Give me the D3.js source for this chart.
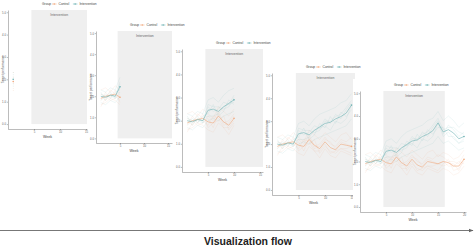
<!DOCTYPE html>
<html>
<head>
<meta charset="utf-8">
<script src="https://cdn.jsdelivr.net/npm/d3@7"></script>
<style>
  body { margin: 0; background: #fff; }
  svg { display: block; font-family: "Liberation Sans", Arial, sans-serif; }
</style>
</head>
<body>
<svg id="chart" width="474" height="252"></svg>
<script>
// weeks measured
var weeks = [1, 2, 3, 4, 5, 6, 7, 8, 9, 10, 11, 12, 13, 14, 15, 16, 17, 18, 19, 20];

// group means
var controlMean = [1.9, 2.0, 2.05, 2.1, 1.95, 1.9, 2.2, 1.95, 1.8, 2.1, 1.85, 1.75, 2.0, 1.95, 1.9, 2.0, 1.95, 1.8, 1.8, 2.1];
var interventionMean = [2.0, 1.95, 2.05, 2.0, 2.45, 2.5, 2.4, 2.6, 2.75, 2.9, 2.95, 3.1, 3.2, 3.35, 3.7, 3.3, 3.4, 3.25, 3.0, 3.1];

// single subjects (faint lines)
var controlSubjects = [
  [2.3, 2.4, 2.2, 2.5, 2.3, 2.1, 2.6, 2.4, 2.2, 2.5, 2.3, 2.1, 2.4, 2.5, 2.2, 2.4, 2.3, 2.1, 2.2, 2.5],
  [1.6, 1.7, 1.9, 1.8, 1.6, 1.5, 1.9, 1.7, 1.4, 1.8, 1.5, 1.4, 1.7, 1.6, 1.5, 1.7, 1.6, 1.4, 1.5, 1.8],
  [2.0, 1.8, 2.3, 2.1, 2.2, 2.0, 2.4, 1.9, 2.0, 2.3, 2.0, 1.9, 2.2, 2.1, 2.3, 2.2, 2.0, 2.0, 1.9, 2.3],
  [1.8, 2.2, 1.9, 2.3, 1.7, 1.9, 2.0, 2.2, 1.6, 1.9, 1.7, 1.6, 1.8, 1.7, 1.6, 1.9, 2.1, 1.6, 1.7, 2.0],
  [2.1, 2.0, 1.8, 1.9, 2.1, 1.7, 2.3, 1.8, 1.9, 2.2, 2.1, 1.8, 2.1, 2.0, 1.9, 1.8, 1.9, 1.9, 1.6, 2.1],
  [1.5, 1.9, 2.1, 2.0, 1.8, 2.2, 2.1, 1.7, 1.7, 2.0, 1.6, 1.7, 1.8, 1.8, 1.9, 2.0, 1.8, 1.8, 2.0, 1.9]
];
var interventionSubjects = [
  [2.3, 2.2, 2.4, 2.3, 2.9, 3.0, 2.8, 3.1, 3.3, 3.4, 3.5, 3.6, 3.8, 3.9, 4.2, 3.8, 4.0, 3.8, 3.5, 3.7],
  [1.7, 1.6, 1.8, 1.7, 2.0, 2.1, 2.0, 2.2, 2.3, 2.4, 2.5, 2.6, 2.7, 2.8, 3.1, 2.8, 2.9, 2.7, 2.5, 2.6],
  [2.1, 2.0, 2.2, 1.9, 2.6, 2.4, 2.5, 2.8, 2.7, 3.1, 2.9, 3.3, 3.1, 3.5, 3.8, 3.2, 3.6, 3.4, 3.1, 3.3],
  [1.9, 2.1, 1.9, 2.2, 2.3, 2.7, 2.2, 2.4, 2.9, 2.7, 3.2, 2.9, 3.4, 3.2, 3.5, 3.5, 3.1, 3.1, 2.8, 2.9],
  [2.2, 1.8, 2.1, 2.0, 2.7, 2.6, 2.6, 2.5, 2.6, 3.0, 3.0, 3.2, 3.3, 3.6, 3.9, 3.4, 3.5, 3.5, 3.3, 3.2],
  [1.8, 2.0, 2.0, 1.9, 2.2, 2.2, 2.3, 2.6, 2.7, 2.8, 2.6, 3.0, 2.9, 3.1, 3.7, 3.1, 3.3, 3.0, 2.8, 3.0]
];

// last week shown in each frame of the flow
var frameWeeks = [1, 5, 10, 15, 20];
var intervention = [4.5, 16.3];   // shaded phase, in weeks
var yTicks = [0, 1, 2, 3, 4, 5];
var xTicksShort = [5, 10, 15];
var xTicksLong = [5, 10, 15, 20];

var colControl = "#f0a77c";
var colInterv = "#6db2b3";

// where each frame sits on the canvas
var frames = [
  { x0: 8,   ppw: 5.2, right: 87,  top: 10, bottom: 129 },
  { x0: 96,  ppw: 4.8, right: 172, top: 31, bottom: 143 },
  { x0: 182, ppw: 5.2, right: 263, top: 49, bottom: 172 },
  { x0: 272, ppw: 5.3, right: 355, top: 73, bottom: 195 },
  { x0: 360, ppw: 5.2, right: 466, top: 91, bottom: 212 }
];

var svg = d3.select("#chart");

frames.forEach(function(f, i) {
  var last = frameWeeks[i];
  var g = svg.append("g");

  // white card, covers the frame behind
  g.append("rect")
    .attr("x", f.x0 - 7).attr("y", f.top - 12)
    .attr("width", f.right - f.x0 + 10).attr("height", f.bottom - f.top + 24)
    .attr("fill", "#fff");

  var x = d3.scaleLinear().domain([0, (f.right - f.x0) / f.ppw]).range([f.x0, f.right]);
  var y = d3.scaleLinear().domain([-0.22, 5.1]).range([f.bottom, f.top]);

  // intervention phase
  var gx1 = x(intervention[0]);
  var gx2 = Math.min(x(intervention[1]), f.right);
  g.append("rect")
    .attr("x", gx1).attr("y", y(5.1))
    .attr("width", gx2 - gx1).attr("height", y(0) - y(5.1))
    .attr("fill", "#efefef");
  g.append("text")
    .attr("x", (gx1 + gx2) / 2).attr("y", y(5.1) + 5.5)
    .attr("text-anchor", "middle")
    .attr("font-size", 3.4).attr("fill", "#666")
    .text("Intervention");

  var shown = weeks.filter(function(w) { return w <= last; });
  var line = d3.line()
    .x(function(d) { return x(d[0]); })
    .y(function(d) { return y(d[1]); });

  function pairs(vals) {
    return shown.map(function(w, k) { return [w, vals[k]]; });
  }

  // faint subject lines
  [[controlSubjects, colControl], [interventionSubjects, colInterv]].forEach(function(s) {
    s[0].forEach(function(vals) {
      if (shown.length > 1) {
        g.append("path")
          .attr("d", line(pairs(vals)))
          .attr("fill", "none")
          .attr("stroke", s[1])
          .attr("stroke-opacity", 0.28)
          .attr("stroke-width", 0.4);
      } else {
        g.append("circle")
          .attr("cx", x(shown[0])).attr("cy", y(vals[0]))
          .attr("r", 0.35).attr("fill", s[1]).attr("fill-opacity", 0.5);
      }
    });
  });

  // group means + end point
  [[controlMean, colControl], [interventionMean, colInterv]].forEach(function(s) {
    var p = pairs(s[0]);
    if (p.length > 1) {
      g.append("path")
        .attr("d", line(p))
        .attr("fill", "none")
        .attr("stroke", s[1])
        .attr("stroke-width", 0.6);
    }
    var end = p[p.length - 1];
    g.append("circle")
      .attr("cx", x(end[0])).attr("cy", y(end[1]))
      .attr("r", 0.8).attr("fill", s[1]);
  });

  // axes
  var xAxis = d3.axisBottom(x)
    .tickValues(i === 4 ? xTicksLong : xTicksShort)
    .tickSize(1.2).tickPadding(0.8).tickSizeOuter(0);
  var yAxis = d3.axisLeft(y)
    .tickValues(yTicks)
    .tickSize(1.2).tickPadding(0.8).tickSizeOuter(0);

  var ax = g.append("g").attr("transform", "translate(0," + f.bottom + ")").call(xAxis);
  var ay = g.append("g").attr("transform", "translate(" + f.x0 + ",0)").call(yAxis);
  [ax, ay].forEach(function(a) {
    a.selectAll("path, line").attr("stroke", "#555").attr("stroke-width", 0.4);
    a.selectAll("text").attr("font-size", 2.8).attr("fill", "#666");
  });

  g.append("text")
    .attr("x", (f.x0 + f.right) / 2).attr("y", f.bottom + 8.5)
    .attr("text-anchor", "middle")
    .attr("font-size", 3.6).attr("fill", "#444")
    .text("Week");
  g.append("text")
    .attr("transform", "translate(" + (f.x0 - 4.5) + "," + ((f.top + f.bottom) / 2) + ") rotate(-90)")
    .attr("text-anchor", "middle")
    .attr("font-size", 3.2).attr("fill", "#555")
    .text("Target performance");

  // legend
  var lg = g.append("g").attr("transform", "translate(" + (f.x0 + 34) + "," + (f.top - 6) + ")");
  lg.append("text").attr("x", 0).attr("y", 1.2).attr("font-size", 3.3).attr("fill", "#444").text("Group");
  var items = [["Control", colControl], ["Intervention", colInterv]];
  var lx = 10;
  items.forEach(function(it) {
    lg.append("line").attr("x1", lx).attr("x2", lx + 4.5).attr("y1", 0).attr("y2", 0)
      .attr("stroke", it[1]).attr("stroke-width", 0.6);
    lg.append("circle").attr("cx", lx + 2.25).attr("cy", 0).attr("r", 0.7).attr("fill", it[1]);
    lg.append("text").attr("x", lx + 6.5).attr("y", 1.2).attr("font-size", 3.3).attr("fill", "#444").text(it[0]);
    lx += 6.5 + it[0].length * 1.7 + 2.5;
  });
});

// flow arrow
var defs = svg.append("defs");
defs.append("marker").attr("id", "arr")
  .attr("viewBox", "0 0 10 10").attr("refX", 9).attr("refY", 5)
  .attr("markerWidth", 5).attr("markerHeight", 5).attr("orient", "auto")
  .append("path").attr("d", "M0,1 L10,5 L0,9 z").attr("fill", "#666");

svg.append("line")
  .attr("x1", 0).attr("x2", 473).attr("y1", 230.5).attr("y2", 230.5)
  .attr("stroke", "#777").attr("stroke-width", 1)
  .attr("marker-end", "url(#arr)");

svg.append("text")
  .attr("x", 248).attr("y", 245)
  .attr("text-anchor", "middle")
  .attr("font-family", "'Liberation Sans Narrow', 'Liberation Sans', Arial, sans-serif")
  .attr("font-weight", "bold")
  .attr("font-size", 10.5).attr("fill", "#222")
  .text("Visualization flow");
</script>
</body>
</html>
